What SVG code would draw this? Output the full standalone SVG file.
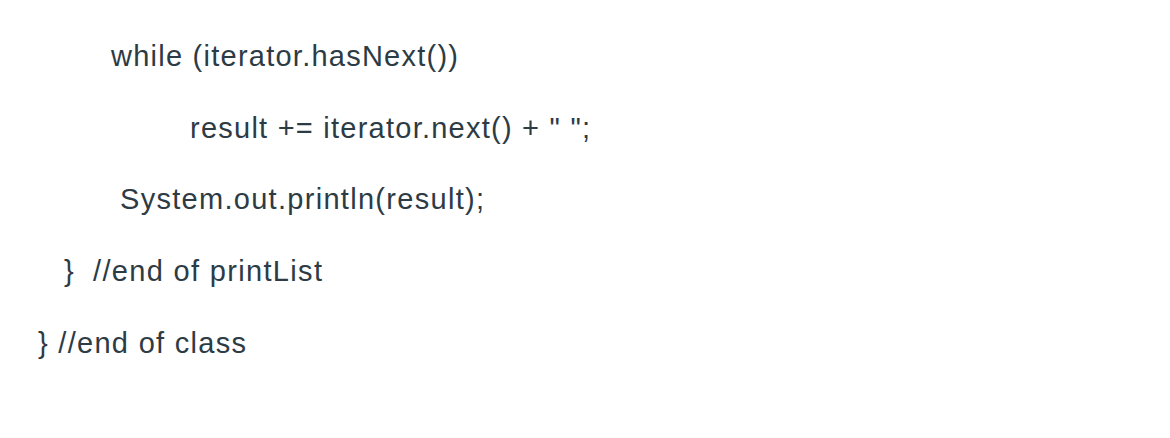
<svg xmlns="http://www.w3.org/2000/svg" width="1170" height="438" viewBox="0 0 1170 438"><style>text{font-family:"Liberation Sans",Arial,sans-serif;font-size:29px;fill:#2d3b45}</style><rect width="1170" height="438" fill="#fff"/><text x="111" y="66" textLength="347" lengthAdjust="spacing">while (iterator.hasNext())</text><text x="190" y="138" textLength="400" lengthAdjust="spacing">result += iterator.next() + " ";</text><text x="120" y="209" textLength="364" lengthAdjust="spacing">System.out.println(result);</text><text x="64" y="281">}</text><text x="93" y="281" textLength="229" lengthAdjust="spacing">//end of printList</text><text x="38" y="353" textLength="208" lengthAdjust="spacing">} //end of class</text></svg>
